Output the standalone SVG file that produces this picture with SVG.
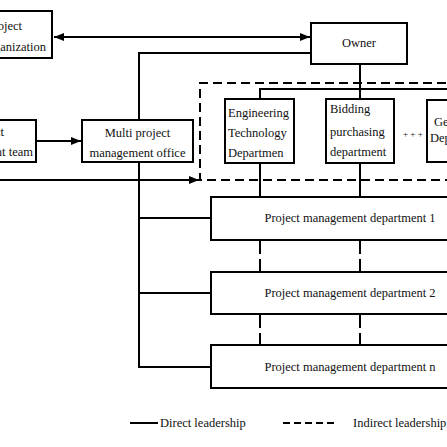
<svg xmlns="http://www.w3.org/2000/svg" width="447" height="447" viewBox="0 0 447 447">
<defs>
<marker id="arr" viewBox="0 0 10 8" refX="10" refY="4" markerWidth="10" markerHeight="8" markerUnits="userSpaceOnUse" orient="auto-start-reverse">
<path d="M0,0 L10,4 L0,8 z" fill="#000"/>
</marker>
<style>
.box{fill:#fff;stroke:#000;stroke-width:2}
.ln{fill:none;stroke:#000;stroke-width:2}
.dl{fill:none;stroke:#000;stroke-width:2;stroke-dasharray:9 5}
.dv{fill:none;stroke:#000;stroke-width:2;stroke-dasharray:14 5}
text{font-family:"Liberation Serif","Times New Roman",serif;font-size:12.5px;fill:#111}
.c{text-anchor:middle}
.e{text-anchor:end}
</style>
</defs>
<rect width="447" height="447" fill="#fff"/>
<g id="connectors">
<path class="ln" d="M54,37 H310" marker-start="url(#arr)" marker-end="url(#arr)"/>
<path class="ln" d="M311,53 H139 V119"/>
<path class="ln" d="M360,64 V89 M260,99 V89 H460 M360,89 V99"/>
<path class="ln" d="M36,141 H81" marker-end="url(#arr)"/>
<path class="ln" d="M-5,180 H199" marker-end="url(#arr)"/>
<path class="dl" d="M460,83 H200 V180 H460"/>
<path class="ln" d="M260,163 V197 M360,163 V197"/>
<path class="dv" d="M260,240 V272 M360,240 V272 M260,314 V345 M360,314 V345"/>
<path class="ln" d="M139,162 V367 H211 M139,218 H211 M139,293 H211"/>
</g>
<g id="project-organization">
<rect class="box" x="-40" y="11" width="92" height="47"/>
<text class="e" x="22" y="30">Project</text>
<text class="e" x="46" y="51">Organization</text>
</g>
<g id="owner">
<rect class="box" x="311" y="23" width="96" height="41"/>
<text class="c" x="359" y="47">Owner</text>
</g>
<g id="project-team">
<rect class="box" x="-60" y="120" width="96" height="42"/>
<text class="e" x="4" y="136">Project</text>
<text class="e" x="33" y="156">management team</text>
</g>
<g id="multi-project-office">
<rect class="box" x="82" y="120" width="111" height="42"/>
<text class="c" x="137.5" y="137">Multi project</text>
<text class="c" x="137.5" y="157">management office</text>
</g>
<g id="engineering">
<rect class="box" x="225" y="99" width="69" height="64"/>
<text x="228" y="117">Engineering</text>
<text x="228" y="137">Technology</text>
<text x="228" y="157">Departmen</text>
</g>
<g id="bidding">
<rect class="box" x="326" y="99" width="68" height="64"/>
<text x="330" y="113">Bidding</text>
<text x="330" y="136">purchasing</text>
<text x="330" y="156">department</text>
</g>
<text x="403" y="137" style="font-size:9px">+ + +</text>
<g id="general">
<rect class="box" x="427" y="100" width="60" height="62"/>
<text x="434" y="126">General</text>
<text x="430" y="142">Department</text>
</g>
<g id="pm1">
<rect class="box" x="211" y="197" width="250" height="43"/>
<text class="c" x="350" y="222">Project management department 1</text>
</g>
<g id="pm2">
<rect class="box" x="211" y="272" width="250" height="42"/>
<text class="c" x="350" y="297">Project management department 2</text>
</g>
<g id="pmn">
<rect class="box" x="211" y="345" width="250" height="43"/>
<text class="c" x="350" y="371">Project management department n</text>
</g>
<g id="legend">
<path class="ln" d="M130,423 H158"/>
<text x="160" y="427">Direct leadership</text>
<path class="dl" d="M283,423 H338" style="stroke-dasharray:7 4"/>
<text x="353" y="427">Indirect leadership</text>
</g>
</svg>
